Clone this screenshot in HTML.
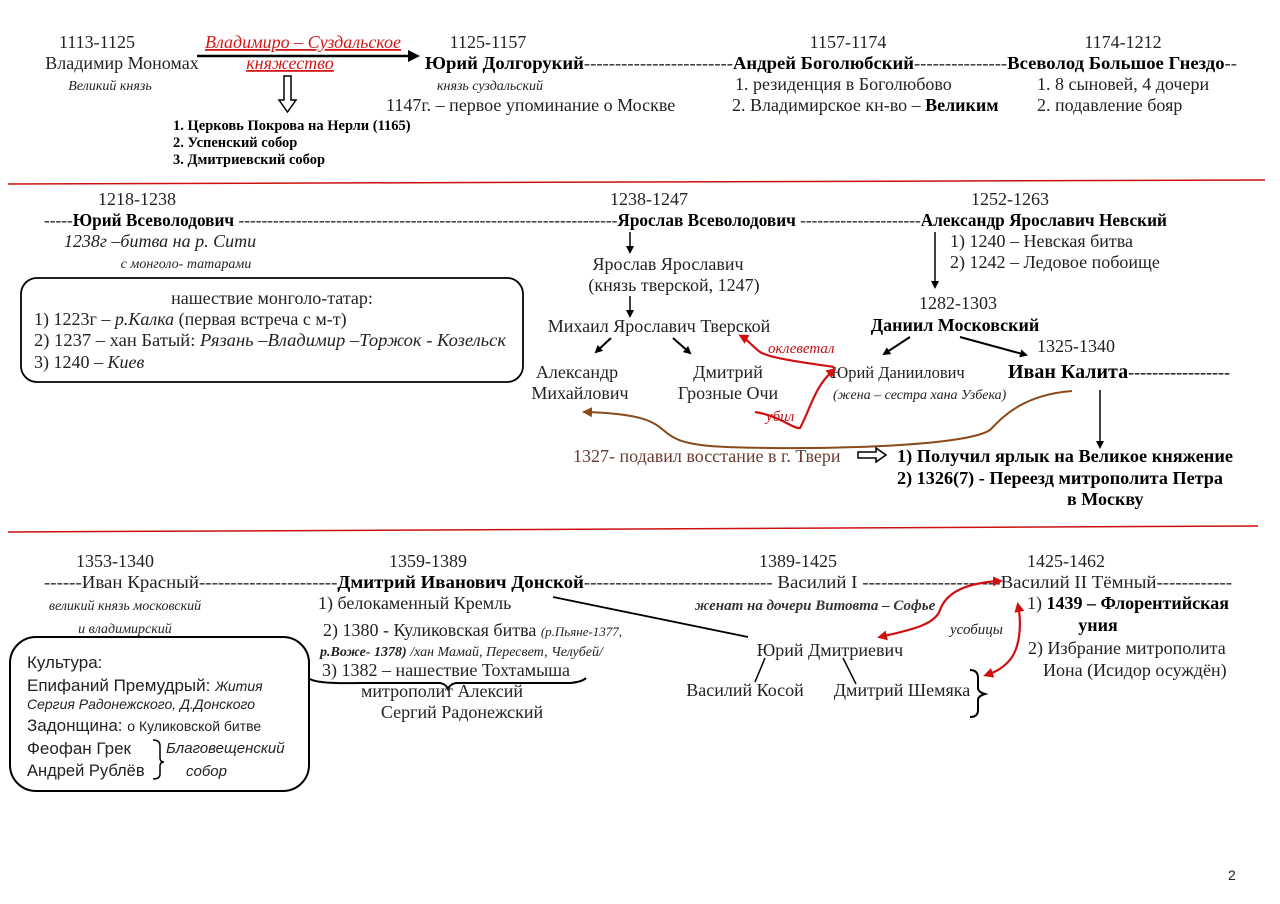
<!DOCTYPE html>
<html><head><meta charset="utf-8"><style>
html,body{margin:0;padding:0;background:#fff;}
svg{display:block;}
text{font-family:"Liberation Serif","Noto Serif CJK SC",serif;font-size:18px;fill:#222;}
.b{font-weight:bold;fill:#000;}
.i{font-style:italic;}
.s{font-size:15px;}
.sans{font-family:"Liberation Sans","DejaVu Sans",sans-serif;}
</style></head><body>
<svg width="1280" height="904" viewBox="0 0 1280 904" xmlns="http://www.w3.org/2000/svg">
<defs>
<marker id="ab" markerWidth="8" markerHeight="8" refX="6" refY="4" orient="auto" markerUnits="userSpaceOnUse"><path d="M0,0 L8,4 L0,8 z" fill="#000"/></marker>
<marker id="ar" markerWidth="10" markerHeight="10" refX="7" refY="5" orient="auto-start-reverse" markerUnits="userSpaceOnUse"><path d="M0,0 L10,5 L0,10 z" fill="#d01010"/></marker>
<marker id="abr" markerWidth="10" markerHeight="10" refX="7" refY="5" orient="auto" markerUnits="userSpaceOnUse"><path d="M0,0 L10,5 L0,10 z" fill="#8a4a1a"/></marker>
</defs>

<!-- Row 1 -->
<text x="97" y="48" text-anchor="middle">1113-1125</text>
<text x="122" y="69" text-anchor="middle">Владимир Мономах</text>
<text x="110" y="90" text-anchor="middle" class="i" style="font-size:14px">Великий князь</text>
<text x="303" y="48" text-anchor="middle" class="i" style="fill:#d41818;text-decoration:underline">Владимиро – Суздальское</text>
<text x="290" y="69" text-anchor="middle" class="i" style="fill:#d41818;text-decoration:underline">княжество</text>
<line x1="197" y1="56" x2="412" y2="56" stroke="#000" stroke-width="2.5"/>
<path d="M408,50 L420,56 L408,62 z" fill="#000"/>
<path d="M284,76 L291,76 L291,100 L296,100 L287.5,112 L279,100 L284,100 z" fill="#fff" stroke="#000" stroke-width="1.5"/>
<text x="173" y="130" class="b" style="font-size:14.5px">1. Церковь  Покрова  на Нерли (1165)</text>
<text x="173" y="147" class="b" style="font-size:14.5px">2. Успенский собор</text>
<text x="173" y="164" class="b" style="font-size:14.5px">3. Дмитриевский собор</text>

<text x="488" y="48" text-anchor="middle">1125-1157</text>
<text x="848" y="48" text-anchor="middle">1157-1174</text>
<text x="1123" y="48" text-anchor="middle">1174-1212</text>
<text x="425" y="69" textLength="812" lengthAdjust="spacingAndGlyphs"><tspan class="b">Юрий Долгорукий</tspan>------------------------<tspan class="b">Андрей Боголюбский</tspan>---------------<tspan class="b">Всеволод Большое Гнездо</tspan>--</text>
<text x="490" y="90" text-anchor="middle" class="i" style="font-size:14px">князь суздальский</text>
<text x="386" y="111">1147г. – первое упоминание о Москве</text>
<text x="735" y="90">1. резиденция в Боголюбово</text>
<text x="732" y="111">2. Владимирское кн-во – <tspan class="b">Великим</tspan></text>
<text x="1037" y="90">1. 8 сыновей, 4 дочери</text>
<text x="1037" y="111">2. подавление бояр</text>
<line x1="8" y1="184" x2="1265" y2="180" stroke="#d01010" stroke-width="1.5"/>

<!-- Row 2 -->
<text x="137" y="205" text-anchor="middle">1218-1238</text>
<text x="649" y="205" text-anchor="middle">1238-1247</text>
<text x="1010" y="205" text-anchor="middle">1252-1263</text>
<text x="44" y="226" textLength="1123" lengthAdjust="spacingAndGlyphs">-----<tspan class="b">Юрий Всеволодович</tspan> ------------------------------------------------------------------<tspan class="b">Ярослав Всеволодович</tspan> ---------------------<tspan class="b">Александр Ярославич Невский</tspan></text>
<text x="160" y="247" text-anchor="middle" class="i">1238г –битва на р. Сити</text>
<text x="186" y="268" text-anchor="middle" class="i" style="font-size:14px">с монголо- татарами</text>
<rect x="21" y="278" width="502" height="104" rx="16" fill="none" stroke="#000" stroke-width="1.8"/>
<text x="272" y="304" text-anchor="middle">нашествие монголо-татар:</text>
<text x="34" y="325">1) 1223г – <tspan class="i">р.Калка</tspan> (первая встреча с м-т)</text>
<text x="34" y="346" textLength="472" lengthAdjust="spacingAndGlyphs">2) 1237 – хан Батый: <tspan class="i">Рязань –Владимир –Торжок - Козельск</tspan></text>
<text x="34" y="368">3) 1240 – <tspan class="i">Киев</tspan></text>

<line x1="630" y1="232" x2="630" y2="252" stroke="#000" stroke-width="1.5" marker-end="url(#ab)"/>
<text x="668" y="270" text-anchor="middle">Ярослав Ярославич</text>
<text x="674" y="291" text-anchor="middle">(князь тверской, 1247)</text>
<line x1="630" y1="296" x2="630" y2="316" stroke="#000" stroke-width="1.5" marker-end="url(#ab)"/>
<text x="659" y="332" text-anchor="middle">Михаил Ярославич Тверской</text>
<line x1="611" y1="338" x2="596" y2="352" stroke="#000" stroke-width="2" marker-end="url(#ab)"/>
<line x1="673" y1="338" x2="690" y2="353" stroke="#000" stroke-width="2" marker-end="url(#ab)"/>
<text x="577" y="378" text-anchor="middle">Александр</text>
<text x="580" y="399" text-anchor="middle">Михайлович</text>
<text x="728" y="378" text-anchor="middle">Дмитрий</text>
<text x="728" y="399" text-anchor="middle">Грозные Очи</text>

<text x="950" y="247">1) 1240 – Невская битва</text>
<text x="950" y="268">2) 1242 – Ледовое побоище</text>
<line x1="935" y1="232" x2="935" y2="287" stroke="#000" stroke-width="1.5" marker-end="url(#ab)"/>
<text x="958" y="309" text-anchor="middle">1282-1303</text>
<text x="955" y="331" text-anchor="middle" class="b">Даниил Московский</text>
<line x1="910" y1="337" x2="884" y2="354" stroke="#000" stroke-width="2" marker-end="url(#ab)"/>
<line x1="960" y1="337" x2="1026" y2="355" stroke="#000" stroke-width="2" marker-end="url(#ab)"/>
<text x="1076" y="352" text-anchor="middle">1325-1340</text>
<text x="898" y="378" text-anchor="middle" style="font-size:16.5px">Юрий Даниилович</text>
<text x="1008" y="378" class="b" style="font-size:20px">Иван Калита<tspan style="font-weight:normal;font-size:18px">-----------------</tspan></text>
<text x="833" y="399" class="i" style="font-size:14px">(жена – сестра хана Узбека)</text>
<line x1="1100" y1="390" x2="1100" y2="447" stroke="#000" stroke-width="1.5" marker-end="url(#ab)"/>

<path d="M834,367 C800,362 770,358 760,352 C752,346 748,340 741,336" fill="none" stroke="#d01010" stroke-width="2.2" marker-end="url(#ar)"/>
<text x="768" y="353" class="i" style="fill:#c01010;font-size:15px">оклеветал</text>
<path d="M755,412 C780,416 795,430 800,428 C810,410 815,385 834,370" fill="none" stroke="#d01010" stroke-width="2.2" marker-end="url(#ar)"/>
<text x="766" y="421" class="i" style="fill:#c01010;font-size:15px">убил</text>
<path d="M1072,391 C1020,395 1000,420 990,430 C960,450 760,450 710,446 C640,440 690,415 585,412" fill="none" stroke="#8a4a1a" stroke-width="2" marker-end="url(#abr)"/>
<text x="573" y="462" style="fill:#6a3a30">1327- подавил восстание в г. Твери</text>
<path d="M858,452 L876,452 L876,448 L886,455 L876,462 L876,458 L858,458 z" fill="#fff" stroke="#000" stroke-width="1.5"/>
<text x="897" y="462" class="b" textLength="336" lengthAdjust="spacingAndGlyphs">1) Получил ярлык на Великое княжение</text>
<text x="897" y="484" class="b" textLength="326" lengthAdjust="spacingAndGlyphs">2) 1326(7) - Переезд митрополита Петра</text>
<text x="1067" y="505" class="b">в  Москву</text>
<line x1="8" y1="532" x2="1258" y2="526" stroke="#d01010" stroke-width="1.5"/>

<!-- Row 3 -->
<text x="115" y="567" text-anchor="middle">1353-1340</text>
<text x="428" y="567" text-anchor="middle">1359-1389</text>
<text x="798" y="567" text-anchor="middle">1389-1425</text>
<text x="1066" y="567" text-anchor="middle">1425-1462</text>
<text x="44" y="588" textLength="1188" lengthAdjust="spacingAndGlyphs">------Иван Красный----------------------<tspan class="b">Дмитрий Иванович Донской</tspan>------------------------------ Василий I ----------------------Василий II Тёмный------------</text>
<text x="125" y="610" text-anchor="middle" class="i" style="font-size:14px">великий князь московский</text>
<text x="125" y="633" text-anchor="middle" class="i" style="font-size:14px">и владимирский</text>
<text x="318" y="609">1) белокаменный Кремль</text>
<text x="323" y="636">2) 1380 - Куликовская битва <tspan class="i" style="font-size:13px">(р.Пьяне-1377,</tspan></text>
<text x="320" y="656" class="i" style="font-size:14px"><tspan font-weight="bold">р.Воже- 1378)</tspan> /хан Мамай, Пересвет, Челубей/</text>
<text x="322" y="676">3) 1382 – нашествие Тохтамыша</text>
<path d="M310,679 Q318,684 360,683 L440,683 Q446,684 448,689 Q450,684 456,683 L570,683 Q582,682 586,678" fill="none" stroke="#000" stroke-width="2"/>
<text x="442" y="697" text-anchor="middle">митрополит Алексий</text>
<text x="462" y="718" text-anchor="middle">Сергий Радонежский</text>

<rect x="10" y="637" width="299" height="154" rx="26" fill="none" stroke="#000" stroke-width="2"/>
<text x="27" y="668" class="sans" style="font-size:17px">Культура:</text>
<text x="27" y="691" class="sans" style="font-size:17px">Епифаний Премудрый: <tspan class="i" style="font-size:14px">Жития</tspan></text>
<text x="27" y="709" class="sans i" style="font-size:14px">Сергия Радонежского, Д.Донского</text>
<text x="27" y="731" class="sans" style="font-size:17px">Задонщина: <tspan style="font-size:14px">о Куликовской битве</tspan></text>
<text x="27" y="754" class="sans" style="font-size:17px">Феофан Грек</text>
<text x="27" y="776" class="sans" style="font-size:16.5px">Андрей Рублёв</text>
<path d="M153,740 Q160,740 160,746 L160,758 Q160,762 164,762 Q160,762 160,766 L160,774 Q160,779 153,779" fill="none" stroke="#000" stroke-width="1.5"/>
<text x="166" y="753" class="sans i" style="font-size:15px">Благовещенский</text>
<text x="186" y="776" class="sans i" style="font-size:15px">собор</text>

<line x1="553" y1="597" x2="748" y2="637" stroke="#000" stroke-width="1.8"/>
<text x="695" y="610" class="i" style="font-size:15px;font-weight:bold;fill:#333">женат на дочери Витовта – Софье</text>
<text x="830" y="656" text-anchor="middle">Юрий Дмитриевич</text>
<line x1="765" y1="658" x2="755" y2="682" stroke="#000" stroke-width="1.5"/>
<line x1="843" y1="658" x2="856" y2="684" stroke="#000" stroke-width="1.5"/>
<text x="745" y="696" text-anchor="middle">Василий Косой</text>
<text x="902" y="696" text-anchor="middle">Дмитрий Шемяка</text>
<path d="M970,670 Q978,670 978,678 L978,688 Q978,692 985,694 Q978,696 978,700 L978,710 Q978,717 970,717" fill="none" stroke="#000" stroke-width="2"/>
<path d="M1000,581 C960,583 945,596 940,610 C935,625 910,630 880,637" fill="none" stroke="#d01010" stroke-width="2.2" marker-start="url(#ar)" marker-end="url(#ar)"/>
<path d="M1018,605 C1022,625 1020,650 1008,662 C1000,670 995,672 986,675" fill="none" stroke="#d01010" stroke-width="2.2" marker-start="url(#ar)" marker-end="url(#ar)"/>
<text x="950" y="634" class="i" style="font-size:15px">усобицы</text>
<text x="1027" y="609">1) <tspan class="b">1439 – Флорентийская</tspan></text>
<text x="1098" y="631" text-anchor="middle" class="b">уния</text>
<text x="1028" y="654">2) Избрание митрополита</text>
<text x="1043" y="676">Иона (Исидор осуждён)</text>

<text x="1228" y="880" class="sans" style="font-size:14px">2</text>
</svg>
</body></html>
